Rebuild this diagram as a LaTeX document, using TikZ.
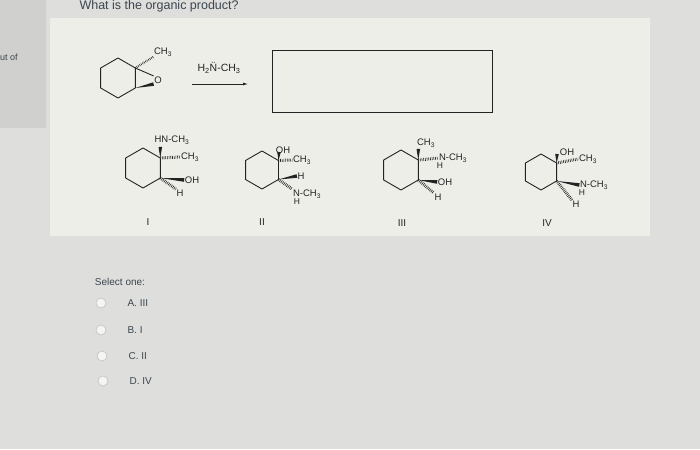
\documentclass[tikz,border=0pt]{standalone}
\usepackage{fontspec}
\setmainfont{Liberation Sans}
\usetikzlibrary{calc,arrows.meta}
\definecolor{bgc}{RGB}{222,222,220}
\definecolor{panel}{RGB}{238,238,233}
\definecolor{strip}{RGB}{208,208,206}
\definecolor{ink}{RGB}{35,35,35}
\definecolor{qtext}{RGB}{60,70,80}
\definecolor{radio}{RGB}{200,200,198}
\newcommand\wedgeb[2]{\fill[ink] (#1) -- ($(#2)!1.8pt!90:(#1)$) -- ($(#2)!1.8pt!-90:(#1)$) -- cycle;}
\newcommand\hexring[4]{\draw[bond] ($(#2,#3)+(30:#4)$) \foreach \k in {1,...,5}{ -- ($(#2,#3)+(30+\k*60:#4)$)} -- cycle;}
\tikzset{
  bond/.style={ink, line width=0.9pt, line join=round},
  hashb/.style={ink, line width=3pt, dash pattern=on 0.6pt off 1.1pt},
  chem/.style={text=ink, font=\fontsize{9.5}{10}\selectfont, inner sep=0.5pt},
  chemh/.style={text=ink, font=\fontsize{8.5}{9}\selectfont, inner sep=0pt},
  lbl/.style={text=ink, font=\fontsize{10}{11}\selectfont},
  opt/.style={text=qtext, font=\fontsize{10}{11}\selectfont, anchor=west},
  rad/.style={draw=radio, fill=panel!60!white, line width=0.8pt, circle, minimum size=10pt, inner sep=0pt}
}
\begin{document}
\begin{tikzpicture}[x=1pt,y=-1pt]
\useasboundingbox (0,0) rectangle (700,449);
\fill[bgc] (0,0) rectangle (700,449);
\fill[strip] (0,0) rectangle (46,128);
\fill[panel] (50,18) rectangle (650,236);
\node[text=qtext, font=\fontsize{12.5}{13}\selectfont, anchor=west] (q) at (76,6) {What is the organic product?};
\node[text=qtext, font=\fontsize{9}{10}\selectfont, anchor=west, inner sep=0pt] (uo) at (0,57) {ut of};
% starting material
\hexring{sm}{118}{78}{20}
\coordinate (sa) at (135.3,68);
\coordinate (sb) at (135.3,88);
\node[chem] (so) at (158,80) {O};
\node[chem] (sm3) at (163,52) {CH\textsubscript{3}};
\draw[bond] (sa) -- (so.north west);
\wedgeb{sb}{so.south west}
\draw[hashb, line width=2pt] (sa) -- (sm3.south west);
\node[chem, font=\fontsize{10.5}{11}\selectfont] (reag) at (219,68) {H\textsubscript{2}\"N-CH\textsubscript{3}};
\coordinate (ar1) at (192,84);
\coordinate (ar2) at (248,84);
\draw[ink, line width=0.7pt, -{Latex[length=5pt,width=3pt]}] (ar1) -- (ar2);
\node[draw=ink, line width=1pt, minimum width=220pt, minimum height=62pt, anchor=north west] (box) at (272,50) {};
% I
\hexring{r1}{143}{168}{20}
\coordinate (a1) at (160.3,158);
\coordinate (b1) at (160.3,178);
\node[chem] (n1) at (172,140) {HN-CH\textsubscript{3}};
\node[chem] (m1) at (190,157) {CH\textsubscript{3}};
\node[chem] (o1) at (192,180) {OH};
\node[chem] (h1) at (180,193) {H};
\wedgeb{a1}{160.3,147}
\draw[hashb] (a1) -- (m1.west);
\wedgeb{b1}{o1.west}
\draw[hashb] (b1) -- (h1.north west);
\node[lbl] (l1) at (148,222) {I};
% II
\hexring{r2}{262}{170}{19}
\coordinate (a2) at (278.5,160.5);
\coordinate (b2) at (278.5,179.5);
\node[chem] (o2) at (283,150) {OH};
\node[chem] (m2) at (302,160) {CH\textsubscript{3}};
\node[chem] (h2) at (301,176) {H};
\node[chem] (n2) at (307,194) {N-CH\textsubscript{3}};
\node[chemh] (n2h) at (297,202) {H};
\wedgeb{a2}{279,152}
\draw[hashb] (a2) -- (m2.west);
\wedgeb{b2}{h2.west}
\draw[hashb] (b2) -- (n2.north west);
\node[lbl] (l2) at (262,222) {II};
% III
\hexring{r3}{401}{170}{20}
\coordinate (a3) at (418.3,160);
\coordinate (b3) at (418.3,180);
\node[chem] (m3) at (426,143) {CH\textsubscript{3}};
\node[chem] (n3) at (453,158) {N-CH\textsubscript{3}};
\node[chemh] (n3h) at (440,166) {H};
\node[chem] (o3) at (445,182) {OH};
\node[chem] (h3) at (438,197) {H};
\wedgeb{a3}{418.3,149}
\draw[hashb] (a3) -- (n3.west);
\wedgeb{b3}{o3.west}
\draw[hashb] (b3) -- (h3.north west);
\node[lbl] (l3) at (402,223) {III};
% IV
\hexring{r4}{541}{172}{18}
\coordinate (a4) at (556.6,163);
\coordinate (b4) at (556.6,181);
\node[chem] (o4) at (567,152) {OH};
\node[chem] (m4) at (588,159) {CH\textsubscript{3}};
\node[chem] (n4) at (594,185) {N-CH\textsubscript{3}};
\node[chemh] (n4h) at (582,193) {H};
\node[chem] (h4) at (576,204) {H};
\wedgeb{a4}{557,154}
\draw[hashb] (a4) -- (m4.west);
\wedgeb{b4}{n4.west}
\draw[hashb] (b4) -- (h4.north west);
\node[lbl] (l4) at (547,223) {IV};
% options
\node[text=qtext, font=\fontsize{10}{11}\selectfont] (sel) at (120,282) {Select one:};
\node[rad] (ra) at (101,303) {};
\node[rad] (rb) at (101,330) {};
\node[rad] (rc) at (102,356) {};
\node[rad] (rd) at (103,381) {};
\node[opt] (ta) at (124,303) {A. III};
\node[opt] (tb) at (124,330) {B. I};
\node[opt] (tc) at (125,356) {C. II};
\node[opt] (td) at (126,381) {D. IV};
\end{tikzpicture}
\end{document}
